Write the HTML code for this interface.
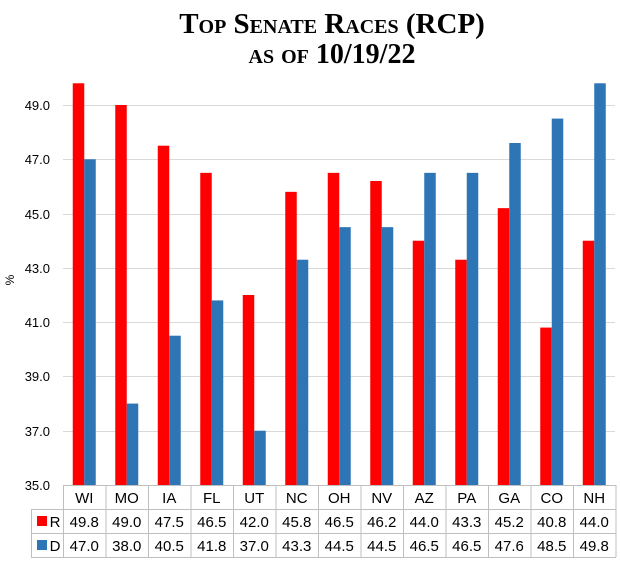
<!DOCTYPE html>
<html><head><meta charset="utf-8"><style>
body{margin:0;background:#fff;}
svg{display:block;}
</style></head><body>
<svg width="620" height="564" xmlns="http://www.w3.org/2000/svg" font-family="Liberation Sans, sans-serif">
<rect width="620" height="564" fill="#fff"/>
<text x="332" y="33" text-anchor="middle" font-family="Liberation Serif, serif" font-weight="bold" font-size="29" style="font-variant:small-caps">Top Senate Races (RCP)</text>
<text x="332" y="63" text-anchor="middle" font-family="Liberation Serif, serif" font-weight="bold" font-size="28" style="font-variant:small-caps">as of 10/19/22</text>
<g stroke="#d9d9d9" stroke-width="1">
<line x1="63" x2="615" y1="105.5" y2="105.5"/>
<line x1="63" x2="615" y1="159.5" y2="159.5"/>
<line x1="63" x2="615" y1="214.5" y2="214.5"/>
<line x1="63" x2="615" y1="268.5" y2="268.5"/>
<line x1="63" x2="615" y1="322.5" y2="322.5"/>
<line x1="63" x2="615" y1="376.5" y2="376.5"/>
<line x1="63" x2="615" y1="431.5" y2="431.5"/>
</g>
<g font-size="13" text-anchor="end" fill="#000">
<text x="50" y="110">49.0</text>
<text x="50" y="164">47.0</text>
<text x="50" y="219">45.0</text>
<text x="50" y="273">43.0</text>
<text x="50" y="327">41.0</text>
<text x="50" y="381">39.0</text>
<text x="50" y="436">37.0</text>
<text x="50" y="490">35.0</text>
</g>
<text x="14" y="280" font-size="12" transform="rotate(-90 14 280)" text-anchor="middle">%</text>
<g id="bars"></g>
<g stroke="#bfbfbf" stroke-width="1" fill="none" id="tbl"></g>
<g font-size="15" text-anchor="middle" id="txt"></g>
<script>
var c=["WI","MO","IA","FL","UT","NC","OH","NV","AZ","PA","GA","CO","NH"];
var R=[49.8,49.0,47.5,46.5,42.0,45.8,46.5,46.2,44.0,43.3,45.2,40.8,44.0];
var D=[47.0,38.0,40.5,41.8,37.0,43.3,44.5,44.5,46.5,46.5,47.6,48.5,49.8];
var ns="http://www.w3.org/2000/svg";
function el(p,t,a,tx){var e=document.createElementNS(ns,t);for(var k in a)e.setAttribute(k,a[k]);if(tx!=null)e.textContent=tx;document.getElementById(p).appendChild(e);}
function y(v){return 485-(v-35)*27.143;}
var w=42.5,x0=63;
for(var i=0;i<13;i++){
 var cx=x0+w*i+w/2;
 el("bars","rect",{x:cx-11.5,y:y(R[i]),width:11.5,height:485-y(R[i]),fill:"#ff0000"});
 el("bars","rect",{x:cx,y:y(D[i]),width:11.5,height:485-y(D[i]),fill:"#2e75b6"});
 el("txt","text",{x:cx,y:503},c[i]);
 el("txt","text",{x:cx,y:527},R[i].toFixed(1));
 el("txt","text",{x:cx,y:551},D[i].toFixed(1));
}
for(var i=0;i<=13;i++){var xx=x0+w*i+0.5;el("tbl","line",{x1:xx,x2:xx,y1:485,y2:557});}
el("tbl","line",{x1:31.5,x2:31.5,y1:509,y2:557});
el("tbl","line",{x1:63,x2:616,y1:485.5,y2:485.5});
el("tbl","line",{x1:31,x2:616,y1:509.5,y2:509.5});
el("tbl","line",{x1:31,x2:616,y1:533.5,y2:533.5});
el("tbl","line",{x1:31,x2:616,y1:557.5,y2:557.5});
el("bars","rect",{x:37,y:516,width:10,height:10,fill:"#ff0000"});
el("bars","rect",{x:37,y:540,width:10,height:10,fill:"#2e75b6"});
el("txt","text",{x:55,y:527},"R");
el("txt","text",{x:55,y:551},"D");
</script>
</svg>
</body></html>
